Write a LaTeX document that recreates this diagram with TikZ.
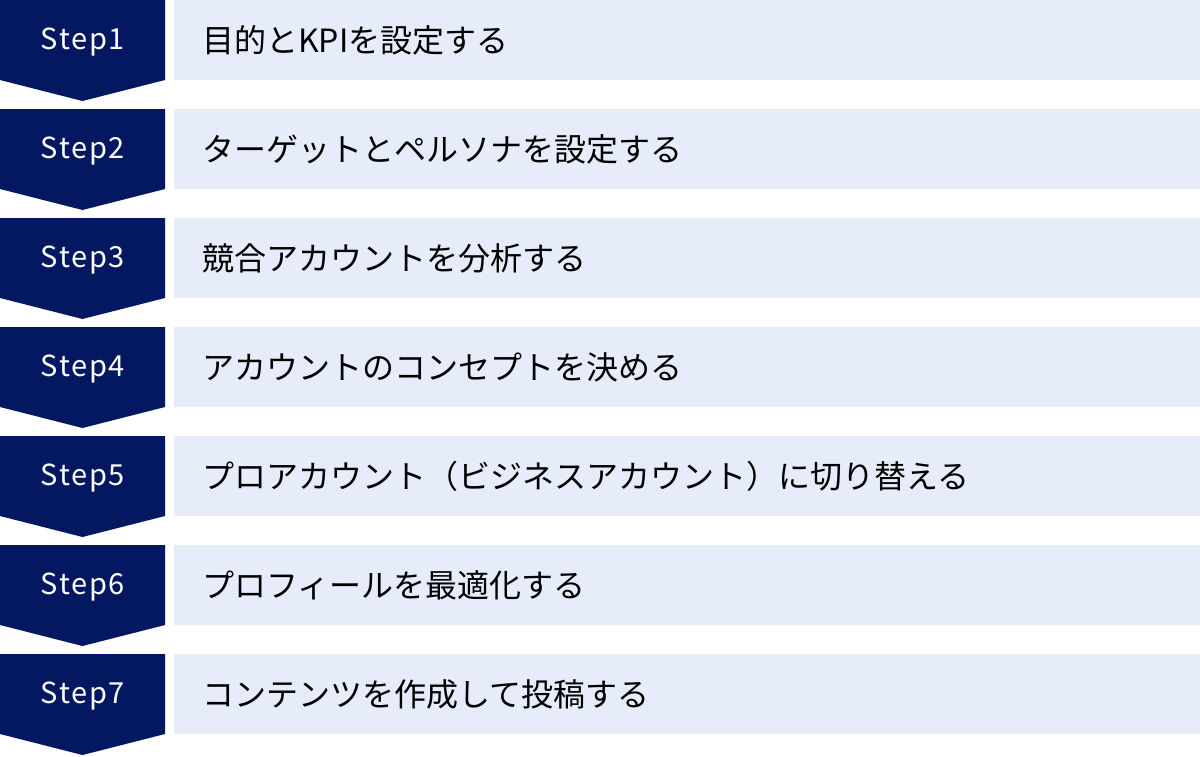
\documentclass[tikz,border=0pt]{standalone}
\usepackage{fontspec}
\setmainfont{Noto Sans CJK JP}
\newfontfamily\stepfont[LetterSpace=6]{Noto Sans CJK JP}
\definecolor{stepnavy}{HTML}{041862}
\definecolor{taskbg}{HTML}{E6ECF9}
\tikzset{
  steplabel/.style={text=white, font=\stepfont\fontsize{29}{29}\selectfont, anchor=center},
  tasklabel/.style={text=black, font=\fontsize{32}{32}\selectfont, anchor=west, inner sep=0pt}
}
\begin{document}
\begin{tikzpicture}[x=1pt, y=-1pt]
\useasboundingbox (0,0) rectangle (1200,756);
%rows
\foreach \i/\txt in {1/目的とKPIを設定する,
    2/ターゲットとペルソナを設定する,
    3/競合アカウントを分析する,
    4/アカウントのコンセプトを決める,
    5/プロアカウント（ビジネスアカウント）に切り替える,
    6/プロフィールを最適化する,
    7/コンテンツを作成して投稿する}
{
  \pgfmathsetmacro\top{(\i-1)*109}
  %arrow
  \fill[stepnavy] (0,\top) -- (165,\top) -- (165,\top+80) -- (82.5,\top+101) -- (0,\top+80) -- cycle;
  %band
  \fill[taskbg] (174,\top) rectangle (1200,\top+80);
  %labels
  \node[steplabel] (step\i) at (83,\top+42) {Step\i};
  \node[tasklabel] (task\i) at (202,\top+40) {\txt};
}
\end{tikzpicture}
\end{document}
